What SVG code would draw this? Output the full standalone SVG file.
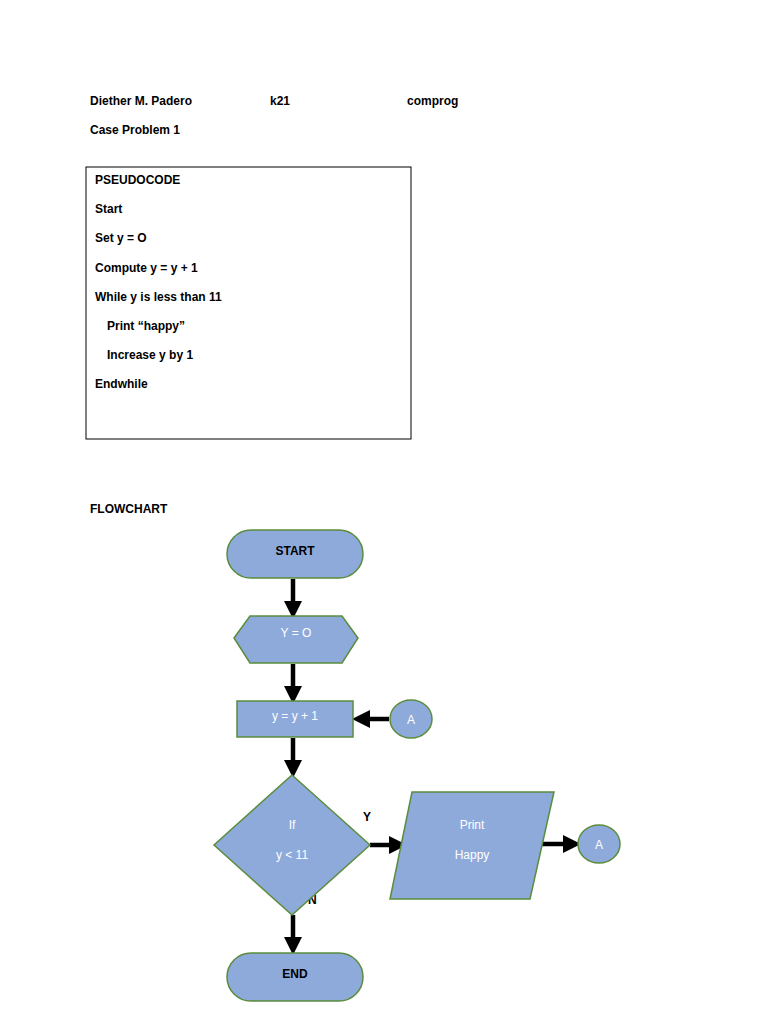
<svg xmlns="http://www.w3.org/2000/svg" width="768" height="1024" viewBox="0 0 768 1024">
<style>
.t{font-family:"Liberation Sans",Arial,sans-serif;font-size:12px;font-weight:bold;fill:#000}
.w{font-family:"Liberation Sans",Arial,sans-serif;font-size:12px;fill:#fff;text-anchor:middle}
.s{fill:#8eaadb;stroke:#5b8c3c;stroke-width:1.5}
.c{stroke:#000;stroke-width:4.5;fill:none;marker-end:url(#ah)}
</style>
<defs><marker id="ah" markerWidth="4" markerHeight="4" refX="2" refY="2" orient="auto"><path d="M0,0L4,2L0,4z" fill="#000"/></marker></defs>
<rect width="768" height="1024" fill="#fff"/>
<text class="t" x="90" y="105">Diether M. Padero</text>
<text class="t" x="270" y="105">k21</text>
<text class="t" x="407" y="105">comprog</text>
<text class="t" x="90" y="134">Case Problem 1</text>
<rect x="86" y="167" width="325" height="272" fill="none" stroke="#000" stroke-width="1"/>
<text class="t" x="95" y="184">PSEUDOCODE</text>
<text class="t" x="95" y="213">Start</text>
<text class="t" x="95" y="242">Set y = O</text>
<text class="t" x="95" y="272">Compute y = y + 1</text>
<text class="t" x="95" y="301">While y is less than 11</text>
<text class="t" x="107" y="330">Print “happy”</text>
<text class="t" x="107" y="359">Increase y by 1</text>
<text class="t" x="95" y="388">Endwhile</text>
<text class="t" x="90" y="513">FLOWCHART</text>
<g id="connectors">
<line class="c" x1="293" y1="579" x2="293" y2="610"/>
<line class="c" x1="293" y1="664" x2="293" y2="695"/>
<line class="c" x1="389" y1="719" x2="361" y2="719"/>
<line class="c" x1="293" y1="738" x2="293" y2="769"/>
<line class="c" x1="370" y1="845" x2="398" y2="845"/>
<line class="c" x1="541" y1="844" x2="572" y2="844"/>
<line class="c" x1="293" y1="915" x2="293" y2="946"/>
<text class="t" x="363" y="821">Y</text>
<text class="t" x="308" y="904">N</text>
</g>
<g id="start"><rect class="s" x="227" y="530" width="136" height="48" rx="24"/><text class="t" x="295" y="555" text-anchor="middle">START</text></g>
<g id="init"><polygon class="s" points="234,638 250,616 342,616 358,638 342,663 250,663"/><text class="w" x="296" y="637">Y = O</text></g>
<g id="compute"><rect class="s" x="237" y="701" width="116" height="36"/><text class="w" x="295" y="720">y = y + 1</text></g>
<g id="connA1"><ellipse class="s" cx="411" cy="719" rx="21" ry="19"/><text class="w" x="411" y="724">A</text></g>
<g id="decision"><polygon class="s" points="292,775 370,845 292,915 214,845"/><text class="w" x="292" y="829">If</text><text class="w" x="292" y="859">y &lt; 11</text></g>
<g id="print"><polygon class="s" points="412,792 554,792 530,899 390,899"/><text class="w" x="472" y="829">Print</text><text class="w" x="472" y="859">Happy</text></g>
<g id="connA2"><ellipse class="s" cx="599" cy="844" rx="21" ry="19"/><text class="w" x="599" y="849">A</text></g>
<g id="end"><rect class="s" x="227" y="953" width="136" height="48" rx="24"/><text class="t" x="295" y="978" text-anchor="middle">END</text></g>
</svg>
